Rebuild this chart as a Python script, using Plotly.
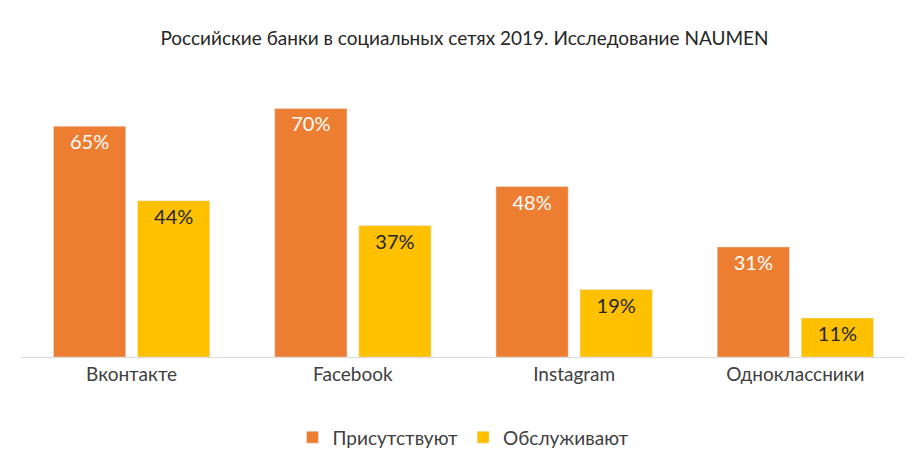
import plotly.graph_objects as go

categories = ["Вконтакте", "Facebook", "Instagram", "Одноклассники"]
present = [0.65, 0.70, 0.48, 0.31]
serve = [0.44, 0.37, 0.19, 0.11]

fig = go.Figure()
fig.add_trace(go.Bar(
    x=categories, y=present, name="Присутствуют",
    marker_color="#ED7D31",
    text=[f"{v:.0%}" for v in present], textposition="inside",
    insidetextanchor="end", textfont=dict(color="white", size=20),
))
fig.add_trace(go.Bar(
    x=categories, y=serve, name="Обслуживают",
    marker_color="#FFC000",
    text=[f"{v:.0%}" for v in serve], textposition="inside",
    insidetextanchor="end", textfont=dict(color="#262626", size=20),
))

fig.update_layout(
    width=913, height=472,
    paper_bgcolor="white", plot_bgcolor="white",
    font=dict(family="Lato, sans-serif", color="#404040", size=19),
    title=dict(text="Российские банки в социальных сетях 2019. Исследование NAUMEN",
               x=0.5, y=0.935, xanchor="center", yanchor="middle",
               font=dict(size=19, color="#262626")),
    margin=dict(l=13, r=15, t=72, b=123, autoexpand=False),
    barmode="group", bargap=0.24, bargroupgap=0.14,
    showlegend=True,
    legend=dict(orientation="h", x=0.5, xanchor="center", y=-0.29, yanchor="middle",
                font=dict(size=19, color="#404040")),
    uniformtext=dict(mode="show", minsize=10),
)
fig.update_xaxes(showline=True, linecolor="#D9D9D9", linewidth=1, ticks="",
                 tickfont=dict(size=19, color="#404040"))
fig.update_yaxes(range=[0, 0.78], visible=False)

fig.write_html("out.html")
